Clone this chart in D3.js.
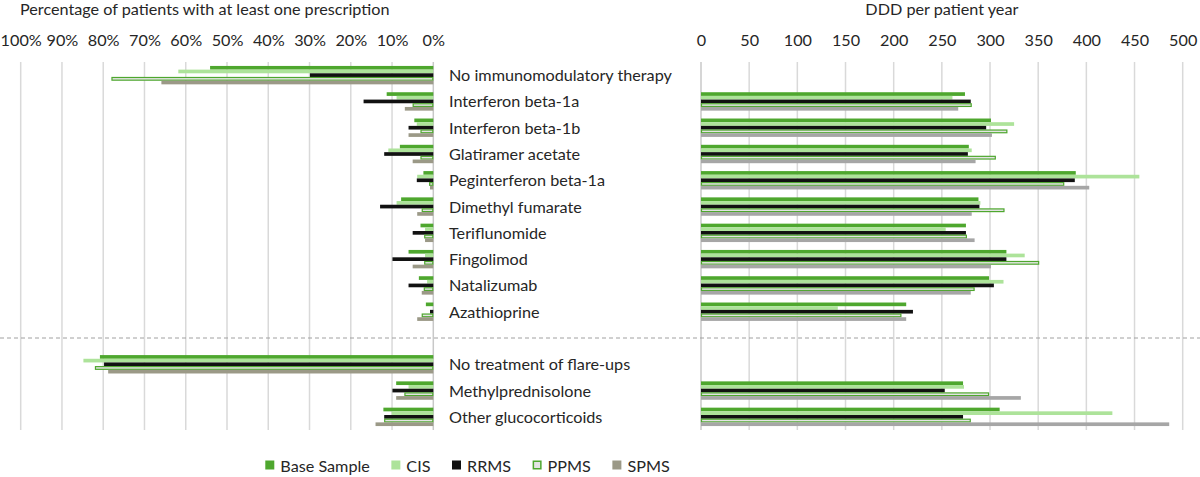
<!DOCTYPE html>
<html>
<head>
<meta charset="utf-8">
<script src="https://cdn.jsdelivr.net/npm/d3@7"></script>
<style>
  html, body { margin: 0; padding: 0; background: #fff; }
  svg { display: block; font-family: Lato, "Open Sans", sans-serif; }
</style>
</head>
<body>
<svg id="chart" width="1200" height="477"></svg>
<script>
// ---- data ----
const categories = [
  "No immunomodulatory therapy", "Interferon beta-1a", "Interferon beta-1b",
  "Glatiramer acetate", "Peginterferon beta-1a", "Dimethyl fumarate",
  "Teriflunomide", "Fingolimod", "Natalizumab", "Azathioprine",
  "", "No treatment of flare-ups", "Methylprednisolone", "Other glucocorticoids"
];
const seriesNames = ["Base Sample", "CIS", "RRMS", "PPMS", "SPMS"];

// Percentage of patients with at least one prescription (%)
const pctBase = [54.1, 11.3, 4.6, 8.1, 2.4, 7.8, 3.1, 6.0, 3.5, 1.8, null, 80.8, 9.0, 12.1];
const pctCIS  = [61.8, 8.9, 4.0, 10.9, 3.9, 8.9, 2.0, 2.0, 1.5, 0, null, 84.8, 6.0, 10.1];
const pctRRMS = [29.9, 16.9, 6.0, 11.9, 4.0, 12.9, 5.0, 9.9, 6.0, 0.8, null, 79.8, 9.9, 11.9];
const pctPPMS = [78.0, 5.0, 3.1, 3.1, 1.0, 2.8, 2.2, 2.2, 2.3, 2.8, null, 82.0, 7.0, 11.9];
const pctSPMS = [65.9, 6.9, 6.0, 5.0, 0.8, 3.9, 2.0, 5.0, 2.8, 3.9, null, 78.8, 9.0, 14.0];

// DDD per patient year
const dddBase = [null, 274, 301, 278, 389, 288, 275, 317, 299, 213, null, null, 272, 310];
const dddCIS  = [null, 261, 325, 281, 455, 290, 254, 336, 314, 142, null, null, 273, 427];
const dddRRMS = [null, 280, 296, 277, 388, 289, 275, 317, 304, 220, null, null, 253, 272];
const dddPPMS = [null, 281, 318, 306, 377, 315, 276, 351, 284, 208, null, null, 299, 280];
const dddSPMS = [null, 267, 302, 285, 403, 281, 284, 301, 280, 213, null, null, 332, 486];

const pctTicks = [0, 0.1, 0.2, 0.3, 0.4, 0.5, 0.6, 0.7, 0.8, 0.9, 1.0];
const dddTicks = [0, 50, 100, 150, 200, 250, 300, 350, 400, 450, 500];

const leftTitle = "Percentage of patients with at least one prescription";
const rightTitle = "DDD per patient year";

// ---- styles ----
const colors = {
  "Base Sample": "#4ea72e", "CIS": "#ade39a", "RRMS": "#111111",
  "PPMS": "#e4e4e4", "SPMS": "#9b9987"
};
const spmsRight = "#a6a6a6";
const textColor = "#262626";
const fontSize = 16.2;

const pctSeries = [pctBase, pctCIS, pctRRMS, pctPPMS, pctSPMS];
const dddSeries = [dddBase, dddCIS, dddRRMS, dddPPMS, dddSPMS];

const svg = d3.select("#chart");
const plotTop = 62, plotBottom = 430;

const y = d3.scaleBand().domain(categories.map((c, i) => i)).range([plotTop, plotBottom])
  .paddingInner(0.3).paddingOuter(0.15);
const ys = d3.scaleBand().domain(seriesNames).range([0, y.bandwidth()]).padding(0);

const xL = d3.scaleLinear().domain([0, 1]).range([433.3, 20.7]);
const xR = d3.scaleLinear().domain([0, 500]).range([701, 1182.7]);

// gridlines
const grid = svg.append("g");
grid.selectAll(".gl").data(pctTicks).join("line")
  .attr("x1", d => xL(d)).attr("x2", d => xL(d))
  .attr("y1", plotTop).attr("y2", plotBottom)
  .attr("stroke", d => d === 0 ? "#c8c8c8" : "#d9d9d9").attr("stroke-width", 1.5);
grid.selectAll(".gr").data(dddTicks).join("line")
  .attr("x1", d => xR(d)).attr("x2", d => xR(d))
  .attr("y1", plotTop).attr("y2", plotBottom)
  .attr("stroke", d => d === 0 ? "#c8c8c8" : "#d9d9d9").attr("stroke-width", 1.5);

// separator dashed line
const sepIdx = categories.indexOf("");
const sepY = y(sepIdx) - y.step() * 0.15 + y.step() / 2;
svg.append("line")
  .attr("x1", 0).attr("x2", 1200)
  .attr("y1", sepY).attr("y2", sepY)
  .attr("stroke", "#a0a0a0").attr("stroke-width", 1).attr("stroke-dasharray", "4,3");

// axes (labels only)
const axL = svg.append("g").attr("transform", "translate(0,46)")
  .call(d3.axisTop(xL).tickValues(pctTicks).tickFormat(d3.format(".0%")).tickSize(0).tickPadding(0));
const axR = svg.append("g").attr("transform", "translate(0,46)")
  .call(d3.axisTop(xR).tickValues(dddTicks).tickFormat(d3.format("d")).tickSize(0).tickPadding(0));
[axL, axR].forEach(a => {
  a.select(".domain").remove();
  a.selectAll("text").attr("font-size", fontSize).attr("fill", textColor)
    .attr("font-family", "Lato, 'Open Sans', sans-serif");
});

// titles
svg.append("text").attr("x", 20).attr("y", 15).attr("font-size", fontSize).attr("fill", textColor)
  .text(leftTitle);
svg.append("text").attr("x", (xR(0) + xR(500)) / 2).attr("y", 15).attr("text-anchor", "middle")
  .attr("font-size", fontSize).attr("fill", textColor).text(rightTitle);

// bars
function drawBars(seriesArr, side) {
  const g = svg.append("g");
  seriesArr.forEach((vals, si) => {
    const name = seriesNames[si];
    const recs = vals.map((v, i) => ({ v, i })).filter(d => d.v !== null && d.v > 0);
    const isP = name === "PPMS";
    let fill = colors[name];
    if (name === "SPMS" && side === "R") fill = spmsRight;
    g.selectAll(null).data(recs).join("rect")
      .attr("x", d => {
        const x0 = side === "L" ? xL(d.v / 100) : xR(0);
        return isP ? x0 + 0.5 : x0;
      })
      .attr("width", d => {
        const w = side === "L" ? xL(0) - xL(d.v / 100) : xR(d.v) - xR(0);
        return Math.max(0, isP ? w - 1 : w);
      })
      .attr("y", d => y(d.i) + ys(name) + (isP ? 0.5 : 0))
      .attr("height", isP ? ys.bandwidth() - 1 : ys.bandwidth())
      .attr("fill", fill)
      .attr("stroke", isP ? colors["Base Sample"] : "none")
      .attr("stroke-width", isP ? 1.2 : 0);
  });
}
drawBars(pctSeries, "L");
drawBars(dddSeries, "R");

// category labels
svg.append("g").selectAll("text").data(categories.map((c, i) => ({ c, i })).filter(d => d.c !== ""))
  .join("text")
  .attr("x", 449)
  .attr("y", d => y(d.i) + y.bandwidth() / 2 + 6)
  .attr("font-size", fontSize).attr("fill", textColor)
  .text(d => d.c);

// legend
const leg = svg.append("g");
const legGap = 21.5;
let lx = 0;
seriesNames.forEach(name => {
  const it = leg.append("g").attr("transform", `translate(${lx},0)`);
  const isP = name === "PPMS";
  it.append("rect").attr("x", isP ? 0.75 : 0).attr("y", isP ? -10.25 : -11)
    .attr("width", isP ? 7.5 : 9).attr("height", isP ? 7.5 : 9)
    .attr("fill", colors[name])
    .attr("stroke", isP ? colors["Base Sample"] : "none").attr("stroke-width", isP ? 1.5 : 0);
  const t = it.append("text").attr("x", 15).attr("y", 0).attr("font-size", fontSize)
    .attr("fill", textColor).text(name);
  const w = 15 + t.node().getComputedTextLength();
  lx += w + legGap;
});
const totalW = lx - legGap;
leg.attr("transform", `translate(${467.5 - totalW / 2},471.5)`);
</script>
</body>
</html>
